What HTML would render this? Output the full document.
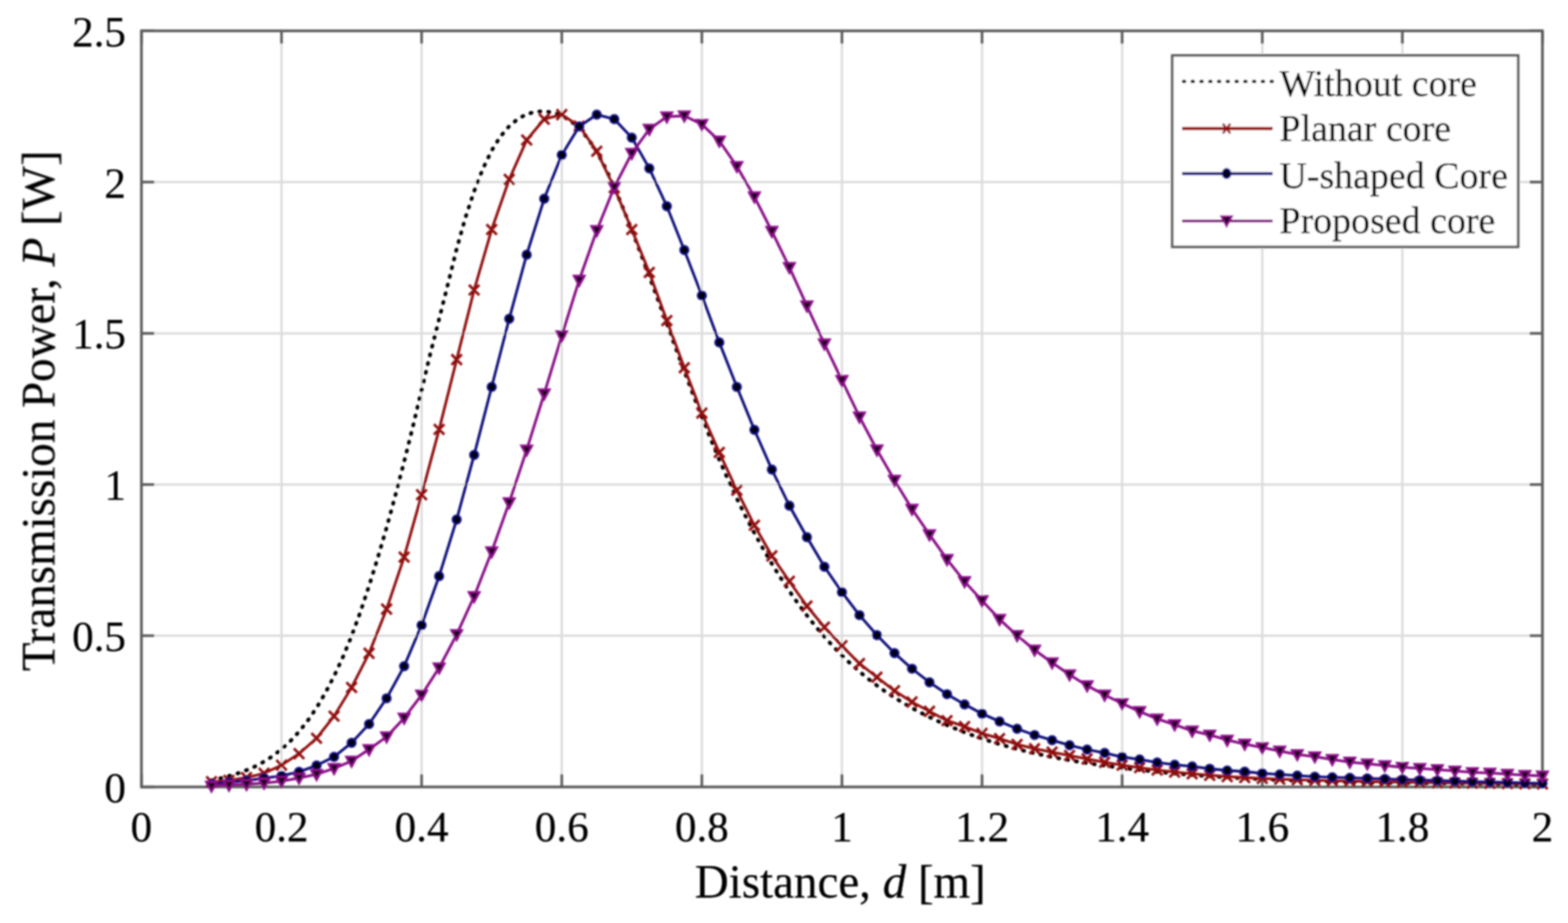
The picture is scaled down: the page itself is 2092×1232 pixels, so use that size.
<!DOCTYPE html>
<html><head><meta charset="utf-8"><title>Transmission Power vs Distance</title><style>html,body{margin:0;padding:0;background:#fff;overflow:hidden;}svg{display:block;}</style></head><body>
<svg width="2092" height="1232" viewBox="0 0 2092 1232">
<defs><filter id="b" filterUnits="userSpaceOnUse" x="0" y="0" width="2092" height="1232"><feGaussianBlur stdDeviation="1.0"/></filter></defs>
<rect width="2092" height="1232" fill="#fff"/>
<g filter="url(#b)">
<path d="M375.6 41.2V1050.4M562.5 41.2V1050.4M749.5 41.2V1050.4M936.4 41.2V1050.4M1123.3 41.2V1050.4M1310.2 41.2V1050.4M1497.1 41.2V1050.4M1684.1 41.2V1050.4M1871.0 41.2V1050.4M188.7 848.6H2057.9M188.7 646.7H2057.9M188.7 444.9H2057.9M188.7 243.0H2057.9" stroke="#dcdcdc" stroke-width="3" fill="none"/>
<path d="M188.7 1050.4v-17M188.7 41.2v17M375.6 1050.4v-17M375.6 41.2v17M562.5 1050.4v-17M562.5 41.2v17M749.5 1050.4v-17M749.5 41.2v17M936.4 1050.4v-17M936.4 41.2v17M1123.3 1050.4v-17M1123.3 41.2v17M1310.2 1050.4v-17M1310.2 41.2v17M1497.1 1050.4v-17M1497.1 41.2v17M1684.1 1050.4v-17M1684.1 41.2v17M1871.0 1050.4v-17M1871.0 41.2v17M2057.9 1050.4v-17M2057.9 41.2v17M188.7 1050.4h17M2057.9 1050.4h-17M188.7 848.6h17M2057.9 848.6h-17M188.7 646.7h17M2057.9 646.7h-17M188.7 444.9h17M2057.9 444.9h-17M188.7 243.0h17M2057.9 243.0h-17M188.7 41.2h17M2057.9 41.2h-17" stroke="#5c5c5c" stroke-width="3.5" fill="none"/>
<rect x="188.7" y="41.2" width="1869.2" height="1009.2" stroke="#5c5c5c" stroke-width="3.6" fill="none"/>
<g font-family="Liberation Serif, serif" font-size="57.5" fill="#000" stroke="#000" stroke-width="0.25"><text x="188.7" y="1122.5" text-anchor="middle">0</text><text x="375.6" y="1122.5" text-anchor="middle">0.2</text><text x="562.5" y="1122.5" text-anchor="middle">0.4</text><text x="749.5" y="1122.5" text-anchor="middle">0.6</text><text x="936.4" y="1122.5" text-anchor="middle">0.8</text><text x="1123.3" y="1122.5" text-anchor="middle">1</text><text x="1310.2" y="1122.5" text-anchor="middle">1.2</text><text x="1497.1" y="1122.5" text-anchor="middle">1.4</text><text x="1684.1" y="1122.5" text-anchor="middle">1.6</text><text x="1871.0" y="1122.5" text-anchor="middle">1.8</text><text x="2057.9" y="1122.5" text-anchor="middle">2</text><text x="168" y="1070.9" text-anchor="end">0</text><text x="168" y="869.1" text-anchor="end">0.5</text><text x="168" y="667.2" text-anchor="end">1</text><text x="168" y="465.4" text-anchor="end">1.5</text><text x="168" y="263.5" text-anchor="end">2</text><text x="168" y="61.7" text-anchor="end">2.5</text></g>
<text x="1121.1" y="1198" text-anchor="middle" font-family="Liberation Serif, serif" font-size="62.7" fill="#000" stroke="#000" stroke-width="0.25">Distance, <tspan font-style="italic">d</tspan> [m]</text>
<text transform="translate(72.5 548.3) rotate(-90)" text-anchor="middle" font-family="Liberation Serif, serif" font-size="62.7" fill="#000" stroke="#000" stroke-width="0.25">Transmission Power, <tspan font-style="italic">P</tspan> [W]</text>
<polyline points="282.2,1041.7 293.8,1038.9 305.5,1035.8 317.2,1032.3 328.9,1028.0 340.6,1022.9 352.3,1016.6 363.9,1009.1 375.6,1000.0 387.3,989.3 399.0,976.6 410.7,961.8 422.4,944.7 434.0,925.0 445.7,902.6 457.4,877.3 469.1,848.8 480.8,816.9 492.4,782.0 504.1,744.3 515.8,704.2 527.5,661.2 539.2,616.2 550.9,569.3 562.5,520.5 574.2,471.8 585.9,425.7 597.6,379.3 609.3,331.9 621.0,290.4 632.6,255.2 644.3,225.1 656.0,200.8 667.7,182.2 679.4,168.4 691.0,158.7 702.7,152.4 714.4,149.2 726.1,148.5 737.8,150.1 749.5,154.2 761.1,161.1 772.8,171.2 784.5,184.9 796.2,202.6 807.9,224.4 819.6,249.7 831.2,277.6 842.9,307.1 854.6,337.7 866.3,368.8 878.0,400.4 889.7,432.1 901.3,463.9 913.0,495.4 924.7,526.4 936.4,556.6 948.1,585.7 959.7,613.6 971.4,640.2 983.1,665.3 994.8,689.1 1006.5,711.5 1018.2,732.6 1029.8,752.5 1041.5,771.3 1053.2,789.1 1064.9,805.8 1076.6,821.5 1088.3,836.3 1099.9,850.0 1111.6,862.9 1123.3,874.9 1135.0,886.0 1146.7,896.4 1158.3,906.1 1170.0,915.0 1181.7,923.4 1193.4,931.1 1205.1,938.3 1216.8,945.1 1228.4,951.3 1240.1,957.2 1251.8,962.7 1263.5,967.9 1275.2,972.8 1286.9,977.4 1298.5,981.8 1310.2,985.8 1321.9,989.7 1333.6,993.2 1345.3,996.6 1357.0,999.7 1368.6,1002.7 1380.3,1005.4 1392.0,1008.0 1403.7,1010.4 1415.4,1012.6 1427.0,1014.7 1438.7,1016.7 1450.4,1018.5 1462.1,1020.3 1473.8,1021.9 1485.5,1023.5 1497.1,1025.0 1508.8,1026.4 1520.5,1027.7 1532.2,1029.0 1543.9,1030.2 1555.6,1031.3 1567.2,1032.4 1578.9,1033.4 1590.6,1034.4 1602.3,1035.3 1614.0,1036.1 1625.6,1036.9 1637.3,1037.7 1649.0,1038.3 1660.7,1039.0 1672.4,1039.6 1684.1,1040.2 1695.7,1040.7 1707.4,1041.2 1719.1,1041.6 1730.8,1042.0 1742.5,1042.4 1754.2,1042.8 1765.8,1043.1 1777.5,1043.4 1789.2,1043.6 1800.9,1043.9 1812.6,1044.1 1824.2,1044.3 1835.9,1044.5 1847.6,1044.7 1859.3,1044.9 1871.0,1045.0 1882.7,1045.2 1894.3,1045.3 1906.0,1045.5 1917.7,1045.6 1929.4,1045.7 1941.1,1045.9 1952.8,1046.0 1964.4,1046.2 1976.1,1046.3 1987.8,1046.5 1999.5,1046.7 2011.2,1046.9 2022.9,1047.1 2034.5,1047.3 2046.2,1047.5 2057.9,1047.8" fill="none" stroke="#000" stroke-width="5.1" stroke-linecap="round" stroke-dasharray="1.4 10.6"/>
<polyline points="282.2,1043.5 305.5,1041.7 328.9,1037.9 352.3,1032.2 375.6,1021.3 399.0,1006.0 422.4,985.4 445.7,955.9 469.1,917.6 492.4,872.0 515.8,813.0 539.2,743.6 562.5,660.4 585.9,573.2 609.3,480.0 632.6,387.1 656.0,306.4 679.4,239.4 702.7,186.9 726.1,159.0 749.5,153.0 772.8,168.3 796.2,201.8 819.6,250.7 842.9,306.4 866.3,363.7 889.7,427.9 913.0,490.9 936.4,551.4 959.7,603.9 983.1,654.4 1006.5,701.2 1029.8,742.0 1053.2,775.9 1076.6,809.0 1099.9,837.2 1123.3,861.9 1146.7,885.7 1170.0,903.9 1193.4,922.0 1216.8,937.0 1240.1,949.5 1263.5,961.8 1286.9,969.8 1310.2,978.9 1333.6,985.8 1357.0,993.6 1380.3,999.3 1403.7,1004.0 1427.0,1008.4 1450.4,1013.0 1473.8,1017.5 1497.1,1021.3 1520.5,1024.7 1543.9,1027.8 1567.2,1030.5 1590.6,1032.8 1614.0,1034.8 1637.3,1036.5 1660.7,1037.9 1684.1,1039.1 1707.4,1040.0 1730.8,1040.8 1754.2,1041.5 1777.5,1042.1 1800.9,1042.6 1824.2,1043.1 1847.6,1043.6 1871.0,1044.0 1894.3,1044.4 1917.7,1044.8 1941.1,1045.1 1964.4,1045.4 1987.8,1045.7 2011.2,1045.9 2034.5,1046.2 2057.9,1046.4" fill="none" stroke="#900c0c" stroke-width="3.6" stroke-linejoin="round"/>
<path d="M275.3 1036.6L289.1 1050.4M275.3 1050.4L289.1 1036.6M298.6 1034.8L312.4 1048.6M298.6 1048.6L312.4 1034.8M322.0 1031.0L335.8 1044.8M322.0 1044.8L335.8 1031.0M345.4 1025.3L359.2 1039.1M345.4 1039.1L359.2 1025.3M368.7 1014.4L382.5 1028.2M368.7 1028.2L382.5 1014.4M392.1 999.1L405.9 1012.9M392.1 1012.9L405.9 999.1M415.5 978.5L429.2 992.3M415.5 992.3L429.2 978.5M438.8 949.0L452.6 962.8M438.8 962.8L452.6 949.0M462.2 910.7L476.0 924.5M462.2 924.5L476.0 910.7M485.5 865.1L499.3 878.9M485.5 878.9L499.3 865.1M508.9 806.1L522.7 819.9M508.9 819.9L522.7 806.1M532.3 736.7L546.1 750.5M532.3 750.5L546.1 736.7M555.6 653.5L569.4 667.3M555.6 667.3L569.4 653.5M579.0 566.3L592.8 580.1M579.0 580.1L592.8 566.3M602.4 473.1L616.2 486.9M602.4 486.9L616.2 473.1M625.7 380.2L639.5 394.0M625.7 394.0L639.5 380.2M649.1 299.5L662.9 313.3M649.1 313.3L662.9 299.5M672.5 232.5L686.3 246.3M672.5 246.3L686.3 232.5M695.8 180.0L709.6 193.8M695.8 193.8L709.6 180.0M719.2 152.1L733.0 165.9M719.2 165.9L733.0 152.1M742.6 146.1L756.4 159.9M742.6 159.9L756.4 146.1M765.9 161.4L779.7 175.2M765.9 175.2L779.7 161.4M789.3 194.9L803.1 208.7M789.3 208.7L803.1 194.9M812.7 243.8L826.5 257.6M812.7 257.6L826.5 243.8M836.0 299.5L849.8 313.3M836.0 313.3L849.8 299.5M859.4 356.8L873.2 370.6M859.4 370.6L873.2 356.8M882.8 421.0L896.6 434.8M882.8 434.8L896.6 421.0M906.1 484.0L919.9 497.8M906.1 497.8L919.9 484.0M929.5 544.5L943.3 558.3M929.5 558.3L943.3 544.5M952.8 597.0L966.6 610.8M952.8 610.8L966.6 597.0M976.2 647.5L990.0 661.3M976.2 661.3L990.0 647.5M999.6 694.3L1013.4 708.1M999.6 708.1L1013.4 694.3M1022.9 735.1L1036.7 748.9M1022.9 748.9L1036.7 735.1M1046.3 769.0L1060.1 782.8M1046.3 782.8L1060.1 769.0M1069.7 802.1L1083.5 815.9M1069.7 815.9L1083.5 802.1M1093.0 830.3L1106.8 844.1M1093.0 844.1L1106.8 830.3M1116.4 855.0L1130.2 868.8M1116.4 868.8L1130.2 855.0M1139.8 878.8L1153.6 892.6M1139.8 892.6L1153.6 878.8M1163.1 897.0L1176.9 910.8M1163.1 910.8L1176.9 897.0M1186.5 915.1L1200.3 928.9M1186.5 928.9L1200.3 915.1M1209.9 930.1L1223.7 943.9M1209.9 943.9L1223.7 930.1M1233.2 942.6L1247.0 956.4M1233.2 956.4L1247.0 942.6M1256.6 954.9L1270.4 968.7M1256.6 968.7L1270.4 954.9M1280.0 962.9L1293.8 976.7M1280.0 976.7L1293.8 962.9M1303.3 972.0L1317.1 985.8M1303.3 985.8L1317.1 972.0M1326.7 978.9L1340.5 992.7M1326.7 992.7L1340.5 978.9M1350.0 986.7L1363.9 1000.5M1350.0 1000.5L1363.9 986.7M1373.4 992.4L1387.2 1006.2M1373.4 1006.2L1387.2 992.4M1396.8 997.1L1410.6 1010.9M1396.8 1010.9L1410.6 997.1M1420.1 1001.5L1433.9 1015.3M1420.1 1015.3L1433.9 1001.5M1443.5 1006.1L1457.3 1019.9M1443.5 1019.9L1457.3 1006.1M1466.9 1010.6L1480.7 1024.4M1466.9 1024.4L1480.7 1010.6M1490.2 1014.4L1504.0 1028.2M1490.2 1028.2L1504.0 1014.4M1513.6 1017.8L1527.4 1031.6M1513.6 1031.6L1527.4 1017.8M1537.0 1020.9L1550.8 1034.7M1537.0 1034.7L1550.8 1020.9M1560.3 1023.6L1574.1 1037.4M1560.3 1037.4L1574.1 1023.6M1583.7 1025.9L1597.5 1039.7M1583.7 1039.7L1597.5 1025.9M1607.1 1027.9L1620.9 1041.7M1607.1 1041.7L1620.9 1027.9M1630.4 1029.6L1644.2 1043.4M1630.4 1043.4L1644.2 1029.6M1653.8 1031.0L1667.6 1044.8M1653.8 1044.8L1667.6 1031.0M1677.2 1032.2L1691.0 1046.0M1677.2 1046.0L1691.0 1032.2M1700.5 1033.1L1714.3 1046.9M1700.5 1046.9L1714.3 1033.1M1723.9 1033.9L1737.7 1047.7M1723.9 1047.7L1737.7 1033.9M1747.3 1034.6L1761.1 1048.4M1747.3 1048.4L1761.1 1034.6M1770.6 1035.2L1784.4 1049.0M1770.6 1049.0L1784.4 1035.2M1794.0 1035.7L1807.8 1049.5M1794.0 1049.5L1807.8 1035.7M1817.3 1036.2L1831.2 1050.0M1817.3 1050.0L1831.2 1036.2M1840.7 1036.7L1854.5 1050.5M1840.7 1050.5L1854.5 1036.7M1864.1 1037.1L1877.9 1050.9M1864.1 1050.9L1877.9 1037.1M1887.4 1037.5L1901.2 1051.3M1887.4 1051.3L1901.2 1037.5M1910.8 1037.9L1924.6 1051.7M1910.8 1051.7L1924.6 1037.9M1934.2 1038.2L1948.0 1052.0M1934.2 1052.0L1948.0 1038.2M1957.5 1038.5L1971.3 1052.3M1957.5 1052.3L1971.3 1038.5M1980.9 1038.8L1994.7 1052.6M1980.9 1052.6L1994.7 1038.8M2004.3 1039.0L2018.1 1052.8M2004.3 1052.8L2018.1 1039.0M2027.6 1039.3L2041.4 1053.1M2027.6 1053.1L2041.4 1039.3M2051.0 1039.5L2064.8 1053.3M2051.0 1053.3L2064.8 1039.5" stroke="#900c0c" stroke-width="3.5" fill="none"/>
<polyline points="282.2,1046.4 305.5,1044.1 328.9,1041.9 352.3,1038.7 375.6,1035.5 399.0,1030.2 422.4,1021.7 445.7,1010.2 469.1,991.5 492.4,966.4 515.8,932.1 539.2,889.3 562.5,834.4 585.9,769.0 609.3,693.5 632.6,607.3 656.0,516.4 679.4,425.5 702.7,339.9 726.1,265.2 749.5,206.7 772.8,168.7 796.2,153.0 819.6,159.0 842.9,183.7 866.3,224.8 889.7,275.3 913.0,333.8 936.4,394.4 959.7,457.0 983.1,516.4 1006.5,573.8 1029.8,626.8 1053.2,675.0 1076.6,717.0 1099.9,756.5 1123.3,790.4 1146.7,821.1 1170.0,847.7 1193.4,871.8 1216.8,892.6 1240.1,910.7 1263.5,926.6 1286.9,940.2 1310.2,952.7 1333.6,963.0 1357.0,972.7 1380.3,981.1 1403.7,988.0 1427.0,994.8 1450.4,1000.5 1473.8,1005.0 1497.1,1010.4 1520.5,1013.8 1543.9,1017.7 1567.2,1020.7 1590.6,1023.0 1614.0,1026.1 1637.3,1028.4 1660.7,1029.9 1684.1,1032.2 1707.4,1033.7 1730.8,1035.3 1754.2,1036.8 1777.5,1037.5 1800.9,1038.2 1824.2,1039.0 1847.6,1039.7 1871.0,1040.5 1894.3,1041.2 1917.7,1041.9 1941.1,1042.6 1964.4,1043.2 1987.8,1043.8 2011.2,1044.4 2034.5,1045.0 2057.9,1045.6" fill="none" stroke="#10107c" stroke-width="3.6" stroke-linejoin="round"/>
<g fill="#000" stroke="#10107c" stroke-width="2.4"><circle cx="282.2" cy="1046.4" r="5.5"/><circle cx="305.5" cy="1044.1" r="5.5"/><circle cx="328.9" cy="1041.9" r="5.5"/><circle cx="352.3" cy="1038.7" r="5.5"/><circle cx="375.6" cy="1035.5" r="5.5"/><circle cx="399.0" cy="1030.2" r="5.5"/><circle cx="422.4" cy="1021.7" r="5.5"/><circle cx="445.7" cy="1010.2" r="5.5"/><circle cx="469.1" cy="991.5" r="5.5"/><circle cx="492.4" cy="966.4" r="5.5"/><circle cx="515.8" cy="932.1" r="5.5"/><circle cx="539.2" cy="889.3" r="5.5"/><circle cx="562.5" cy="834.4" r="5.5"/><circle cx="585.9" cy="769.0" r="5.5"/><circle cx="609.3" cy="693.5" r="5.5"/><circle cx="632.6" cy="607.3" r="5.5"/><circle cx="656.0" cy="516.4" r="5.5"/><circle cx="679.4" cy="425.5" r="5.5"/><circle cx="702.7" cy="339.9" r="5.5"/><circle cx="726.1" cy="265.2" r="5.5"/><circle cx="749.5" cy="206.7" r="5.5"/><circle cx="772.8" cy="168.7" r="5.5"/><circle cx="796.2" cy="153.0" r="5.5"/><circle cx="819.6" cy="159.0" r="5.5"/><circle cx="842.9" cy="183.7" r="5.5"/><circle cx="866.3" cy="224.8" r="5.5"/><circle cx="889.7" cy="275.3" r="5.5"/><circle cx="913.0" cy="333.8" r="5.5"/><circle cx="936.4" cy="394.4" r="5.5"/><circle cx="959.7" cy="457.0" r="5.5"/><circle cx="983.1" cy="516.4" r="5.5"/><circle cx="1006.5" cy="573.8" r="5.5"/><circle cx="1029.8" cy="626.8" r="5.5"/><circle cx="1053.2" cy="675.0" r="5.5"/><circle cx="1076.6" cy="717.0" r="5.5"/><circle cx="1099.9" cy="756.5" r="5.5"/><circle cx="1123.3" cy="790.4" r="5.5"/><circle cx="1146.7" cy="821.1" r="5.5"/><circle cx="1170.0" cy="847.7" r="5.5"/><circle cx="1193.4" cy="871.8" r="5.5"/><circle cx="1216.8" cy="892.6" r="5.5"/><circle cx="1240.1" cy="910.7" r="5.5"/><circle cx="1263.5" cy="926.6" r="5.5"/><circle cx="1286.9" cy="940.2" r="5.5"/><circle cx="1310.2" cy="952.7" r="5.5"/><circle cx="1333.6" cy="963.0" r="5.5"/><circle cx="1357.0" cy="972.7" r="5.5"/><circle cx="1380.3" cy="981.1" r="5.5"/><circle cx="1403.7" cy="988.0" r="5.5"/><circle cx="1427.0" cy="994.8" r="5.5"/><circle cx="1450.4" cy="1000.5" r="5.5"/><circle cx="1473.8" cy="1005.0" r="5.5"/><circle cx="1497.1" cy="1010.4" r="5.5"/><circle cx="1520.5" cy="1013.8" r="5.5"/><circle cx="1543.9" cy="1017.7" r="5.5"/><circle cx="1567.2" cy="1020.7" r="5.5"/><circle cx="1590.6" cy="1023.0" r="5.5"/><circle cx="1614.0" cy="1026.1" r="5.5"/><circle cx="1637.3" cy="1028.4" r="5.5"/><circle cx="1660.7" cy="1029.9" r="5.5"/><circle cx="1684.1" cy="1032.2" r="5.5"/><circle cx="1707.4" cy="1033.7" r="5.5"/><circle cx="1730.8" cy="1035.3" r="5.5"/><circle cx="1754.2" cy="1036.8" r="5.5"/><circle cx="1777.5" cy="1037.5" r="5.5"/><circle cx="1800.9" cy="1038.2" r="5.5"/><circle cx="1824.2" cy="1039.0" r="5.5"/><circle cx="1847.6" cy="1039.7" r="5.5"/><circle cx="1871.0" cy="1040.5" r="5.5"/><circle cx="1894.3" cy="1041.2" r="5.5"/><circle cx="1917.7" cy="1041.9" r="5.5"/><circle cx="1941.1" cy="1042.6" r="5.5"/><circle cx="1964.4" cy="1043.2" r="5.5"/><circle cx="1987.8" cy="1043.8" r="5.5"/><circle cx="2011.2" cy="1044.4" r="5.5"/><circle cx="2034.5" cy="1045.0" r="5.5"/><circle cx="2057.9" cy="1045.6" r="5.5"/></g>
<polyline points="282.2,1049.2 305.5,1047.8 328.9,1046.9 352.3,1045.2 375.6,1042.7 399.0,1038.5 422.4,1033.6 445.7,1025.6 469.1,1015.8 492.4,1000.3 515.8,983.4 539.2,958.4 562.5,927.7 585.9,891.3 609.3,846.9 632.6,796.1 656.0,736.3 679.4,670.9 702.7,600.5 726.1,525.6 749.5,448.2 772.8,373.8 796.2,307.6 819.6,249.9 842.9,204.6 866.3,172.4 889.7,155.8 913.0,154.6 936.4,165.9 959.7,188.1 983.1,222.0 1006.5,262.6 1029.8,308.6 1053.2,356.8 1076.6,408.2 1099.9,458.9 1123.3,507.6 1146.7,556.3 1170.0,600.3 1193.4,640.9 1216.8,679.5 1240.1,713.6 1263.5,746.6 1286.9,776.1 1310.2,801.6 1333.6,826.6 1357.0,848.2 1380.3,867.5 1403.7,884.5 1427.0,900.5 1450.4,915.2 1473.8,927.7 1497.1,939.0 1520.5,949.6 1543.9,959.5 1567.2,967.2 1590.6,975.6 1614.0,981.0 1637.3,987.8 1660.7,993.2 1684.1,997.8 1707.4,1002.4 1730.8,1007.0 1754.2,1010.0 1777.5,1013.7 1800.9,1017.2 1824.2,1019.5 1847.6,1021.8 1871.0,1024.1 1894.3,1025.7 1917.7,1027.2 1941.1,1029.0 1964.4,1031.0 1987.8,1031.8 2011.2,1033.3 2034.5,1034.8 2057.9,1035.6" fill="none" stroke="#880a86" stroke-width="3.6" stroke-linejoin="round"/>
<path d="M275.2 1043.6H289.2L282.2 1056.4ZM298.5 1042.2H312.5L305.5 1055.0ZM321.9 1041.3H335.9L328.9 1054.1ZM345.3 1039.6H359.3L352.3 1052.4ZM368.6 1037.1H382.6L375.6 1049.9ZM392.0 1032.9H406.0L399.0 1045.7ZM415.4 1028.0H429.4L422.4 1040.8ZM438.7 1020.0H452.7L445.7 1032.8ZM462.1 1010.2H476.1L469.1 1023.0ZM485.4 994.7H499.4L492.4 1007.5ZM508.8 977.8H522.8L515.8 990.6ZM532.2 952.8H546.2L539.2 965.6ZM555.5 922.1H569.5L562.5 934.9ZM578.9 885.7H592.9L585.9 898.5ZM602.3 841.3H616.3L609.3 854.1ZM625.6 790.5H639.6L632.6 803.3ZM649.0 730.7H663.0L656.0 743.5ZM672.4 665.3H686.4L679.4 678.1ZM695.7 594.9H709.7L702.7 607.7ZM719.1 520.0H733.1L726.1 532.8ZM742.5 442.6H756.5L749.5 455.4ZM765.8 368.2H779.8L772.8 381.0ZM789.2 302.0H803.2L796.2 314.8ZM812.6 244.3H826.6L819.6 257.1ZM835.9 199.0H849.9L842.9 211.8ZM859.3 166.8H873.3L866.3 179.6ZM882.7 150.2H896.7L889.7 163.0ZM906.0 149.0H920.0L913.0 161.8ZM929.4 160.3H943.4L936.4 173.1ZM952.7 182.5H966.7L959.7 195.3ZM976.1 216.4H990.1L983.1 229.2ZM999.5 257.0H1013.5L1006.5 269.8ZM1022.8 303.0H1036.8L1029.8 315.8ZM1046.2 351.2H1060.2L1053.2 364.0ZM1069.6 402.6H1083.6L1076.6 415.4ZM1092.9 453.3H1106.9L1099.9 466.1ZM1116.3 502.0H1130.3L1123.3 514.8ZM1139.7 550.7H1153.7L1146.7 563.5ZM1163.0 594.7H1177.0L1170.0 607.5ZM1186.4 635.3H1200.4L1193.4 648.1ZM1209.8 673.9H1223.8L1216.8 686.7ZM1233.1 708.0H1247.1L1240.1 720.8ZM1256.5 741.0H1270.5L1263.5 753.8ZM1279.9 770.5H1293.9L1286.9 783.3ZM1303.2 796.0H1317.2L1310.2 808.8ZM1326.6 821.0H1340.6L1333.6 833.8ZM1350.0 842.6H1364.0L1357.0 855.4ZM1373.3 861.9H1387.3L1380.3 874.7ZM1396.7 878.9H1410.7L1403.7 891.7ZM1420.0 894.9H1434.0L1427.0 907.7ZM1443.4 909.6H1457.4L1450.4 922.4ZM1466.8 922.1H1480.8L1473.8 934.9ZM1490.1 933.4H1504.1L1497.1 946.2ZM1513.5 944.0H1527.5L1520.5 956.8ZM1536.9 953.9H1550.9L1543.9 966.7ZM1560.2 961.6H1574.2L1567.2 974.4ZM1583.6 970.0H1597.6L1590.6 982.8ZM1607.0 975.4H1621.0L1614.0 988.2ZM1630.3 982.2H1644.3L1637.3 995.0ZM1653.7 987.6H1667.7L1660.7 1000.4ZM1677.1 992.2H1691.1L1684.1 1005.0ZM1700.4 996.8H1714.4L1707.4 1009.6ZM1723.8 1001.4H1737.8L1730.8 1014.2ZM1747.2 1004.4H1761.2L1754.2 1017.2ZM1770.5 1008.1H1784.5L1777.5 1020.9ZM1793.9 1011.6H1807.9L1800.9 1024.4ZM1817.2 1013.9H1831.2L1824.2 1026.7ZM1840.6 1016.2H1854.6L1847.6 1029.0ZM1864.0 1018.5H1878.0L1871.0 1031.3ZM1887.3 1020.1H1901.3L1894.3 1032.9ZM1910.7 1021.6H1924.7L1917.7 1034.4ZM1934.1 1023.4H1948.1L1941.1 1036.2ZM1957.4 1025.4H1971.4L1964.4 1038.2ZM1980.8 1026.2H1994.8L1987.8 1039.0ZM2004.2 1027.7H2018.2L2011.2 1040.5ZM2027.5 1029.2H2041.5L2034.5 1042.0ZM2050.9 1030.0H2064.9L2057.9 1042.8Z" fill="#000" stroke="#880a86" stroke-width="3" stroke-linejoin="miter"/>
<rect x="1564" y="74" width="461.5" height="255.5" fill="#fff" stroke="#5c5c5c" stroke-width="3.4"/>
<line x1="1579" y1="108.7" x2="1698" y2="108.7" stroke="#000" stroke-width="4.6" stroke-linecap="round" stroke-dasharray="1.4 10.3"/>
<line x1="1577" y1="171.6" x2="1698" y2="171.6" stroke="#900c0c" stroke-width="4.1"/>
<line x1="1577" y1="231.7" x2="1698" y2="231.7" stroke="#10107c" stroke-width="4.1"/>
<line x1="1577" y1="295.0" x2="1698" y2="295.0" stroke="#880a86" stroke-width="4.1"/>
<path d="M1631.5 165.1L1641.5 178.1M1631.5 178.1L1641.5 165.1" stroke="#900c0c" stroke-width="3"/>
<ellipse cx="1636.5" cy="231.7" rx="5.2" ry="6.2" fill="#000" stroke="#10107c" stroke-width="2.4"/>
<path d="M1629.7 289.0H1643.3L1636.5 301.5Z" fill="#000" stroke="#880a86" stroke-width="3"/>
<g font-family="Liberation Serif, serif" font-size="50.6" fill="#000" stroke="#000" stroke-width="0.25"><text x="1707" y="127.7">Without core</text><text x="1707" y="188.1">Planar core</text><text x="1707" y="250.7">U-shaped Core</text><text x="1707" y="310.6">Proposed core</text></g>
</g></svg>
</body></html>
